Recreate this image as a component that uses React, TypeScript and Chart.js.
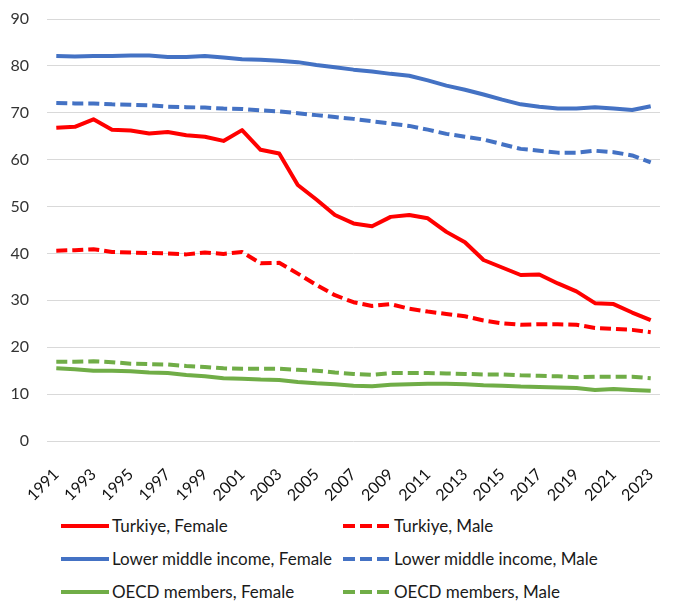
import { useEffect, useRef } from "react";
import { Chart, registerables } from "chart.js";

Chart.register(...registerables);

const years: string[] = [];
for (let y = 1991; y <= 2023; y++) years.push(String(y));

const turkiyeFemale = [
    66.8, 67.0, 68.6, 66.4, 66.2, 65.6, 65.9, 65.2, 64.9, 64.0, 66.3,
    62.1, 61.3, 54.6, 51.5, 48.2, 46.4, 45.8, 47.8, 48.2, 47.5, 44.6,
    42.4, 38.6, 37.0, 35.4, 35.5, 33.6, 31.9, 29.4, 29.2, 27.4, 25.8
];
const turkiyeMale = [
    40.6, 40.7, 40.9, 40.3, 40.2, 40.1, 40.0, 39.8, 40.2, 39.9, 40.3,
    37.9, 38.0, 35.7, 33.3, 31.1, 29.6, 28.8, 29.2, 28.2, 27.6, 27.1,
    26.6, 25.7, 25.1, 24.8, 24.9, 24.9, 24.8, 24.1, 23.9, 23.7, 23.2
];
const lmiFemale = [
    82.1, 82.0, 82.1, 82.1, 82.2, 82.2, 81.9, 81.9, 82.1, 81.8, 81.4,
    81.3, 81.1, 80.8, 80.2, 79.7, 79.2, 78.8, 78.3, 77.9, 76.9, 75.8,
    74.9, 73.9, 72.8, 71.8, 71.3, 70.9, 70.9, 71.2, 70.9, 70.6, 71.4
];
const lmiMale = [
    72.1, 72.0, 72.0, 71.8, 71.7, 71.6, 71.3, 71.2, 71.1, 70.9, 70.8,
    70.5, 70.3, 69.9, 69.5, 69.1, 68.7, 68.2, 67.7, 67.2, 66.4, 65.5,
    64.9, 64.3, 63.3, 62.3, 61.9, 61.5, 61.5, 61.9, 61.6, 60.9, 59.4
];
const oecdFemale = [
    15.5, 15.3, 15.0, 15.0, 14.9, 14.6, 14.5, 14.1, 13.8, 13.4, 13.3,
    13.1, 13.0, 12.6, 12.3, 12.1, 11.8, 11.7, 12.0, 12.1, 12.2, 12.2,
    12.1, 11.9, 11.8, 11.6, 11.5, 11.4, 11.3, 10.9, 11.1, 10.9, 10.7
];
const oecdMale = [
    16.9, 16.9, 17.0, 16.8, 16.5, 16.4, 16.3, 16.0, 15.8, 15.5, 15.4,
    15.4, 15.4, 15.2, 15.0, 14.6, 14.3, 14.1, 14.5, 14.5, 14.5, 14.4,
    14.3, 14.2, 14.2, 14.0, 13.9, 13.8, 13.6, 13.7, 13.7, 13.7, 13.4
];

const RED = "#ff0000";
const BLUE = "#4472c4";
const GREEN = "#70ad47";
const DASH = [11, 5];
const FONT = "Lato, 'Noto Sans', sans-serif";

const series = [
    { label: "Turkiye, Female", data: turkiyeFemale, color: RED, dashed: false },
    { label: "Turkiye, Male", data: turkiyeMale, color: RED, dashed: true },
    { label: "Lower middle income, Female", data: lmiFemale, color: BLUE, dashed: false },
    { label: "Lower middle income, Male", data: lmiMale, color: BLUE, dashed: true },
    { label: "OECD members, Female", data: oecdFemale, color: GREEN, dashed: false },
    { label: "OECD members, Male", data: oecdMale, color: GREEN, dashed: true },
];

function LegendItem({ label, color, dashed }: { label: string; color: string; dashed: boolean }) {
    return (
        <div style={{ display: "flex", alignItems: "center", height: 33 }}>
            <svg width={48} height={6} style={{ marginRight: 3 }}>
                <line
                    x1={0} y1={3} x2={48} y2={3}
                    stroke={color} strokeWidth={4}
                    strokeDasharray={dashed ? "12 5" : undefined}
                />
            </svg>
            <span>{label}</span>
        </div>
    );
}

export default function App() {
    const canvasRef = useRef<HTMLCanvasElement | null>(null);
    const chartRef = useRef<Chart | null>(null);

    useEffect(() => {
        if (!canvasRef.current) return;
        if (chartRef.current) chartRef.current.destroy();

        chartRef.current = new Chart(canvasRef.current, {
            type: "line",
            data: {
                labels: years,
                datasets: series.map((s) => ({
                    label: s.label,
                    data: s.data,
                    borderColor: s.color,
                    backgroundColor: s.color,
                    borderWidth: 4,
                    borderDash: s.dashed ? DASH : [],
                    borderJoinStyle: "round" as const,
                    pointRadius: 0,
                    tension: 0,
                    fill: false,
                })),
            },
            options: {
                responsive: true,
                maintainAspectRatio: false,
                animation: false,
                layout: { padding: { top: 19, right: 25, left: 0, bottom: 0 } },
                plugins: {
                    legend: { display: false },
                    tooltip: { enabled: false },
                },
                scales: {
                    x: {
                        offset: true,
                        grid: { display: false },
                        border: { display: false },
                        ticks: {
                            autoSkip: false,
                            maxRotation: 45,
                            minRotation: 45,
                            padding: 16,
                            color: "#111111",
                            font: { family: FONT, size: 16 },
                            callback: (_v, i) => (i % 2 === 0 ? years[i] : ""),
                        },
                        afterFit: (scale) => {
                            scale.height = 64;
                        },
                    },
                    y: {
                        min: 0,
                        max: 90,
                        ticks: {
                            stepSize: 10,
                            padding: 0,
                            color: "#333333",
                            font: { family: FONT, size: 16 },
                        },
                        grid: {
                            color: "#d9d9d9",
                            lineWidth: 1,
                            drawTicks: true,
                            tickLength: 18,
                            tickColor: "rgba(0,0,0,0)",
                        },
                        border: { display: false },
                        afterFit: (scale) => {
                            scale.width = 47;
                        },
                    },
                },
            },
        });

        return () => {
            if (chartRef.current) chartRef.current.destroy();
            chartRef.current = null;
        };
    }, []);

    return (
        <div style={{ position: "absolute", left: 0, top: 0, width: 685, height: 615, background: "#fff" }}>
            <div style={{ position: "relative", width: 685, height: 505 }}>
                <canvas ref={canvasRef} />
            </div>
            <div
                style={{
                    position: "absolute",
                    left: 61,
                    top: 509,
                    display: "grid",
                    gridTemplateColumns: "282px auto",
                    fontFamily: FONT,
                    fontSize: 17,
                    color: "#1a1a1a",
                }}
            >
                {series.map((s) => (
                    <LegendItem key={s.label} label={s.label} color={s.color} dashed={s.dashed} />
                ))}
            </div>
        </div>
    );
}
